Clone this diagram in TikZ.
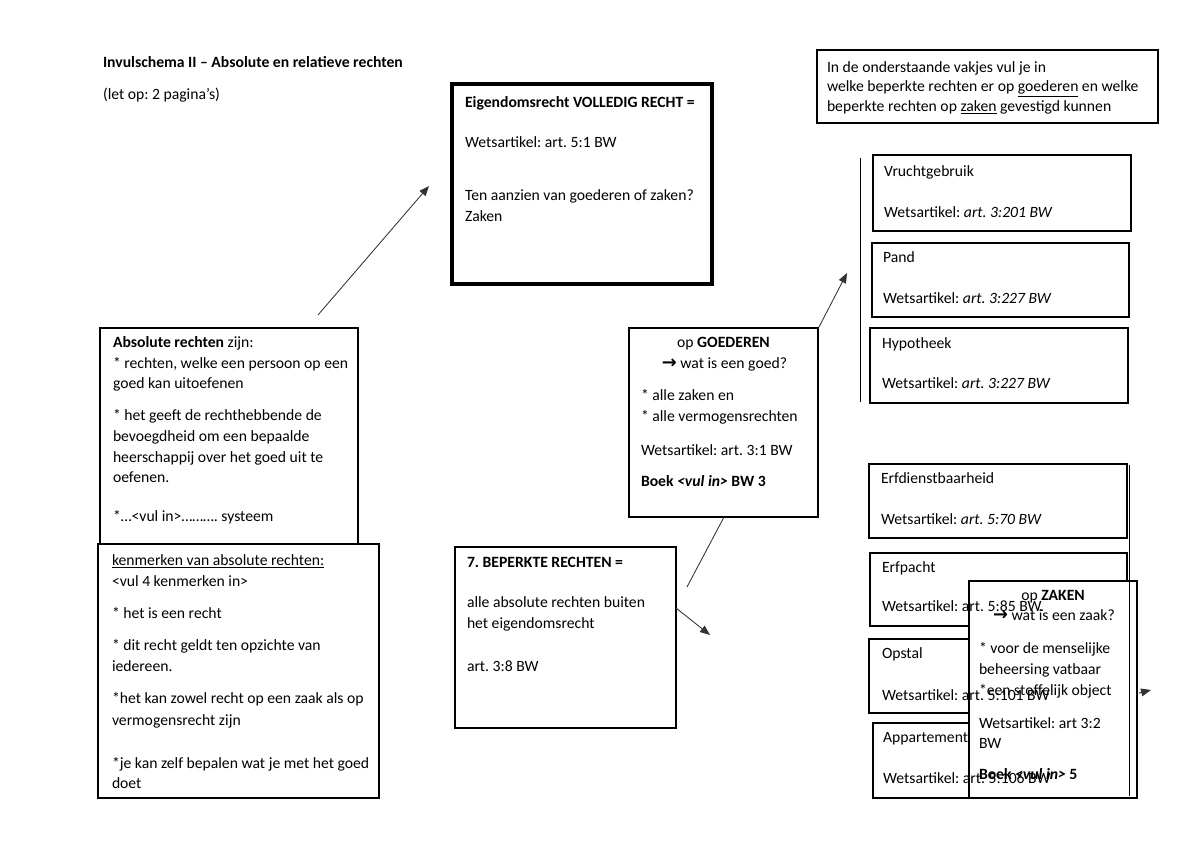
\documentclass[tikz,border=0pt]{standalone}
\usepackage{fontspec}
\setmainfont{Carlito}
\newfontfamily\arrowfont{DejaVu Sans}
\usetikzlibrary{fit,arrows.meta}
\frenchspacing
\newcommand{\bigarrow}{{\arrowfont\bfseries\fontsize{12.5pt}{14.5pt}\selectfont →}}
\tikzset{
  x=0.70166pt, y=-0.70166pt,
  box/.style={draw=black, line width=1.4pt, inner sep=0pt, fill=white},
  thickbox/.style={draw=black, line width=2.8pt, inner sep=0pt, fill=white},
  txt/.style={inner sep=0pt, outer sep=0pt, align=left, anchor=north west, font=\fontsize{11pt}{14.5pt}\selectfont\frenchspacing},
  head/.style={inner sep=0pt, anchor=base, font=\fontsize{11pt}{14.5pt}\selectfont},
  conn/.style={draw=black!80, line width=0.6pt},
  arr/.style={conn, -{Triangle[length=7pt,width=5.5pt]}},
  bracket/.style={draw=black, line width=0.7pt},
}
\begin{document}
\begin{tikzpicture}
\useasboundingbox (0,0) rectangle (1200,848);
\fill[white] (0,0) rectangle (1200,848);

% boxes
\node[thickbox, fit={(452,84) (712,284)}] (eigen) {};
\node[box, fit={(817,50) (1158,123)}] (note) {};
\node[box, fit={(873,155) (1131,231)}] (vrucht) {};
\node[box, fit={(872,243) (1129,317)}] (pand) {};
\node[box, fit={(870,328) (1128,403)}] (hypo) {};
\node[box, fit={(869,464) (1127,538)}] (erfd) {};
\node[box, fit={(870,553) (1127,626)}] (erfp) {};
\node[box, fit={(869,639) (1127,713)}] (opstal) {};
\node[box, fit={(873,723) (1127,798)}] (appart) {};
\node[box, fit={(629,328) (818,517)}] (goederen) {};
\node[box, fit={(455,547) (676,728)}] (beperkt) {};
\node[box, fit={(100,328) (358,545)}] (absoluut) {};
\node[box, fit={(98,544) (379,798)}] (kenmerk) {};
\node[box, fit={(969,581) (1137,798)}] (zaken) {};

% texts
\node[txt] (ttitle) at (103,53) {\strut\textbf{Invulschema II – Absolute en relatieve rechten}\\[7.9pt] (let op: 2 pagina’s)};
\node[txt] (teigen) at (465,93) {\strut\textbf{Eigendomsrecht VOLLEDIG RECHT =}\\[13.6pt] Wetsartikel: art. 5:1 BW\\[22.7pt] Ten aanzien van goederen of zaken?\\ Zaken};
\node[txt] (tnote) at (827,58) {\strut In de onderstaande vakjes vul je in\\[-0.8pt] welke beperkte rechten er op \underline{goederen} en welke\\[-0.8pt] beperkte rechten op \underline{zaken} gevestigd kunnen};
\node[txt] (tvrucht) at (884,162) {\strut Vruchtgebruik\\[14pt] Wetsartikel: \textit{art. 3:201 BW}};
\node[txt] (tpand) at (883,248) {\strut Pand\\[14pt] Wetsartikel: \textit{art. 3:227 BW}};
\node[txt] (thypo) at (882,334) {\strut Hypotheek\\[13.6pt] Wetsartikel: \textit{art. 3:227 BW}};
\node[txt] (terfd) at (881,469) {\strut Erfdienstbaarheid\\[14.3pt] Wetsartikel: \textit{art. 5:70 BW}};
\node[txt] (terfp) at (882,558) {\strut Erfpacht\\[12.9pt] Wetsartikel: art. 5:85 BW.};
\node[txt] (topstal) at (882,644) {\strut Opstal\\[15pt] Wetsartikel: art. 5:101 BW};
\node[txt] (tappart) at (883,728) {\strut Appartement\\[14.3pt] Wetsartikel: art. 5:106 BW};

\node[head] (hgoed1) at (723.5,347.5) {op \textbf{GOEDEREN}};
\node[head] (hgoed2) at (724.5,368.5) {\bigarrow\ wat is een goed?};
\node[txt] (tgoed) at (641,386) {\strut * alle zaken en\\ * alle vermogensrechten\\[9.4pt] Wetsartikel: art. 3:1 BW\\[7.3pt] \textbf{Boek \textit{<vul in>} BW 3}};

\node[head] (hzaak1) at (1053,600.5) {op \textbf{ZAKEN}};
\node[head] (hzaak2) at (1054,620.5) {\bigarrow\ wat is een zaak?};
\node[txt] (tzaak) at (979,639) {\strut * voor de menselijke\\[0.6pt] beheersing vatbaar\\[-0.4pt] *een stoffelijk object\\[8.7pt] Wetsartikel: art 3:2\\ BW\\[7.3pt] \textbf{Boek \textit{<vul in>} 5}};

\node[txt] (tbeperkt) at (467,553) {\strut\textbf{7. BEPERKTE RECHTEN =}\\[13.6pt] alle absolute rechten buiten\\ het eigendomsrecht\\[15.7pt] art. 3:8 BW};

\node[txt] (tabsoluut) at (113,333) {\strut\textbf{Absolute rechten} zijn:\\ * rechten, welke een persoon op een\\ goed kan uitoefenen\\[7.9pt] * het geeft de rechthebbende de\\ bevoegdheid om een bepaalde\\ heerschappij over het goed uit te\\ oefenen.\\[12.9pt] *…<vul in>………. systeem};

\node[txt] (tkenmerk) at (112,551) {\strut\underline{kenmerken van absolute rechten:}\\ <vul 4 kenmerken in>\\[7.9pt] * het is een recht\\[8.3pt] * dit recht geldt ten opzichte van\\ iedereen.\\[7.9pt] *het kan zowel recht op een zaak als op\\[0.9pt] vermogensrecht zijn\\[15.7pt] *je kan zelf bepalen wat je met het goed\\ doet};

% bracket lines
\coordinate (b1t) at (860,158);
\coordinate (b1b) at (860,402);
\draw[bracket] (b1t) -- (b1b);
\coordinate (b2t) at (1129,465);
\coordinate (b2b) at (1129,796);
\draw[bracket] (b2t) -- (b2b);

% connectors
\coordinate (a1s) at (318,315);
\coordinate (a1e) at (429,186);
\draw[arr] (a1s) -- (a1e);
\coordinate (a2e) at (847,273);
\draw[arr] (goederen.north east) -- (a2e);
\coordinate (a3e) at (687,587);
\draw[conn] (goederen.south) -- (a3e);
\coordinate (a4s) at (676,608);
\coordinate (a4e) at (710,635);
\draw[arr] (a4s) -- (a4e);
\coordinate (a5s) at (1139,693);
\coordinate (a5e) at (1151,690);
\draw[arr] (a5s) -- (a5e);
\end{tikzpicture}
\end{document}
